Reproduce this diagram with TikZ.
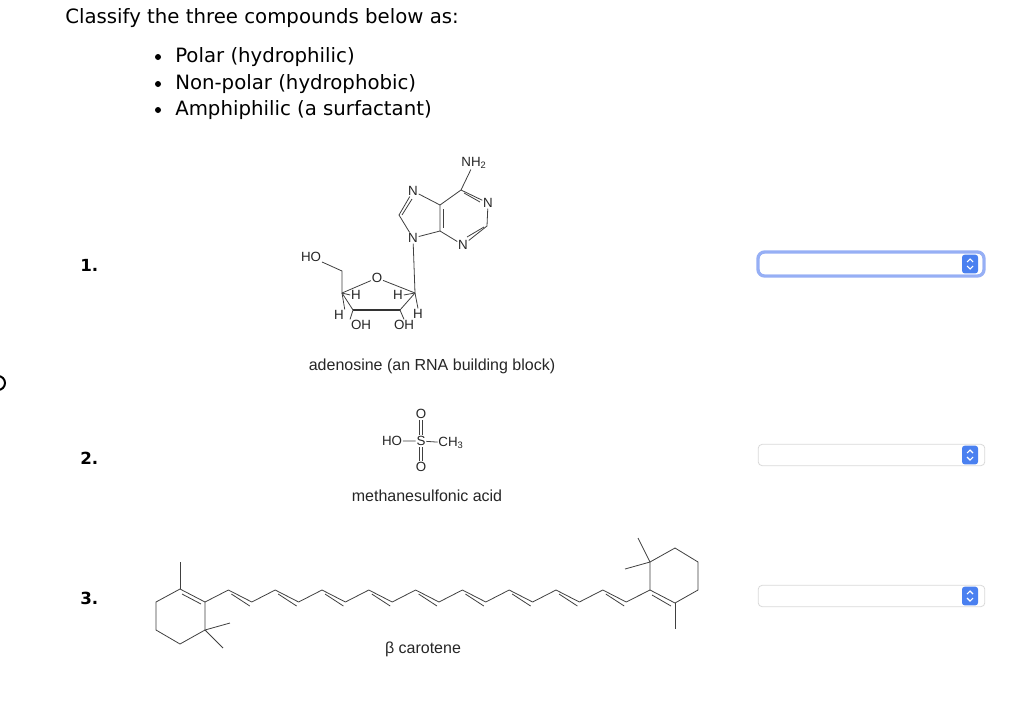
\documentclass[tikz,border=0pt]{standalone}
\usepackage{fontspec}
\setmainfont{DejaVu Sans}
\newfontfamily\mol{Liberation Sans}
\definecolor{btnblue}{RGB}{74,128,240}
\definecolor{glow}{RGB}{150,175,245}
\begin{document}
\begin{tikzpicture}[x=0.75pt,y=-0.75pt,
  bond/.style={line width=0.6pt,draw=black!75},
  lbl/.style={font=\mol\fontsize{10}{11}\selectfont,inner sep=0.5pt,text=black!85},
  molcap/.style={font=\mol\fontsize{12}{13}\selectfont,inner sep=0.5pt,text=black!85},
  qtext/.style={font=\fontsize{14.8}{17}\selectfont,anchor=west,inner sep=0},
  num/.style={font=\bfseries\fontsize{12.5}{14}\selectfont,anchor=west,inner sep=0},
  drop/.style={rounded corners=3pt,draw=black!15,fill=white,line width=0.6pt},
  btn/.style={rounded corners=2pt,fill=btnblue,draw=none}]
\useasboundingbox (0,0) rectangle (1024,701);
\fill[white] (0,0) rectangle (1024,701);
% question
\node[qtext] (q) at (65,18) {Classify the three compounds below as:};
\foreach \t/\y/\n in {Polar (hydrophilic)/57/b1,Non-polar (hydrophobic)/84/b2,Amphiphilic (a surfactant)/110/b3}{
  \fill (158,\y) circle (3);
  \node[qtext] (\n) at (175,\y) {\t};}
\node[num] (n1) at (80,265) {1.};
\node[num] (n2) at (80,458) {2.};
\node[num] (n3) at (80,598) {3.};
% left partial circle
\draw[line width=1.5pt] (-2,376) arc (-90:90:7);
% dropdowns
\draw[rounded corners=5pt,draw=glow,line width=2.5pt] (758,252) rectangle (984,276);
\fill[white,rounded corners=3pt] (760,254) rectangle (982,274);
\node[btn,minimum width=12pt,minimum height=14pt] (d1) at (970,264) {};
\node[drop,minimum width=170pt,minimum height=16pt] (d2) at (871.5,455) {};
\node[btn,minimum width=12pt,minimum height=14pt] (d2b) at (970,455) {};
\node[drop,minimum width=170pt,minimum height=16pt] (d3) at (871.5,596) {};
\node[btn,minimum width=12pt,minimum height=14pt] (d3b) at (970,596) {};
\foreach \y in {264,455,596}{
  \draw[white,line width=0.8pt] (967,\y-2) -- (970,\y-5) -- (973,\y-2);
  \draw[white,line width=0.8pt] (967,\y+2) -- (970,\y+5) -- (973,\y+2);}
% ---------- adenosine
\node[lbl] (nh2) at (474,163) {NH\textsubscript{2}};
\node[lbl] (n1a) at (488,203) {N};
\node[lbl] (n3a) at (463,245) {N};
\node[lbl] (n7) at (413,191) {N};
\node[lbl] (n9) at (413,238) {N};
\coordinate (c6) at (461,190);
\coordinate (c2) at (487,226);
\coordinate (c4) at (440,231);
\coordinate (c5) at (440,205);
\coordinate (c8) at (399,215);
\draw[bond] (nh2) -- (c6) -- (n1a) -- (c2) -- (n3a) -- (c4) -- (c5) -- (c6);
\draw[bond] (c2) ++(-3,1) -- ++(-17,10);
\draw[bond] (c6) ++(3,3) -- ++(16,9);
\draw[bond] (443,209) -- (443,228);
\draw[bond] (c5) -- (n7) -- (c8) -- (n9) -- (c4);
\draw[bond] (402,215) -- (412,199);
\coordinate (c1s) at (415,293);
\coordinate (c2s) at (400,310);
\coordinate (c3s) at (353,310);
\coordinate (c4s) at (342,293);
\coordinate (c5s) at (342,271);
\node[lbl] (os) at (377,278) {O};
\node[lbl] (ho) at (311,257) {HO};
\draw[bond] (n9) -- (c1s);
\draw[bond] (ho) -- (c5s) -- (c4s);
\draw[bond] (c4s) -- (os) -- (c1s);
\draw[bond] (c4s) -- (c3s);
\draw[bond] (c2s) -- (c1s);
\draw[line width=2.2pt,draw=black!80] (c3s) -- (c2s);
\node[lbl] (h1) at (356,295) {H};
\node[lbl] (h2) at (398,295) {H};
\node[lbl] (h3) at (339,315) {H};
\node[lbl] (h4) at (418,314) {H};
\node[lbl] (oh1) at (361,325) {OH};
\node[lbl] (oh2) at (404,325) {OH};
\draw[bond] (c4s) -- (h3.north east);
\draw[bond] (c4s) -- (h1.west);
\draw[bond] (c1s) -- (h2.east);
\draw[bond] (c1s) -- (h4.north);
\draw[bond] (c3s) -- (oh1.north west);
\draw[bond] (c2s) -- (oh2.north);
\node[molcap] (cap1) at (432,366) {adenosine (an RNA building block)};
% ---------- methanesulfonic acid
\node[lbl] (s) at (421,441) {S};
\node[lbl] (ho2) at (392,441) {HO};
\node[lbl] (ch3) at (451,443) {CH\textsubscript{3}};
\node[lbl] (o1) at (421,414) {O};
\node[lbl] (o2) at (421,467) {O};
\draw[bond] (ho2) -- (s) -- (ch3);
\draw[bond] (419.5,420) -- (419.5,435) (422.5,420) -- (422.5,435);
\draw[bond] (419.5,447) -- (419.5,461) (422.5,447) -- (422.5,461);
\node[molcap] (cap2) at (427,496) {methanesulfonic acid};
% ---------- beta carotene
\coordinate (a1) at (180,589); \coordinate (a2) at (205,602);
\coordinate (a3) at (205,630); \coordinate (a4) at (180,644);
\coordinate (a5) at (156,630); \coordinate (a6) at (156,602);
\draw[bond] (a1) -- (a2) -- (a3) -- (a4) -- (a5) -- (a6) -- cycle;
\draw[bond] (182,594) -- (201,604);
\draw[bond] (a1) -- (180,562);
\draw[bond] (a3) -- (230,623) (a3) -- (223,648);
\coordinate (b1) at (650,590); \coordinate (b2) at (675,603);
\coordinate (b3) at (698,590); \coordinate (b4) at (698,562);
\coordinate (b5) at (675,548); \coordinate (b6) at (650,562);
\draw[bond] (b1) -- (b2) -- (b3) -- (b4) -- (b5) -- (b6) -- cycle;
\draw[bond] (652,595) -- (671,606);
\draw[bond] (b2) -- (675,629);
\draw[bond] (b6) -- (638,538) (b6) -- (625,569);
\foreach \i in {1,...,18}{
  \pgfmathsetmacro\xa{205+(\i-1)*23.4}
  \pgfmathsetmacro\xb{205+\i*23.4}
  \pgfmathsetmacro\ya{ifthenelse(mod(\i,2)==1,602,590)}
  \pgfmathsetmacro\yb{ifthenelse(mod(\i,2)==1,590,602)}
  \draw[bond] (\xa,\ya) -- (\xb,\yb);
  \ifodd\i\else
    \draw[bond] (\xa+3,\ya+4) -- (\xb-2,\yb+4);
  \fi}
\draw[bond] (626.2,602) -- (b1);
\node[molcap] (cap3) at (423,649) {β carotene};
\end{tikzpicture}
\end{document}
